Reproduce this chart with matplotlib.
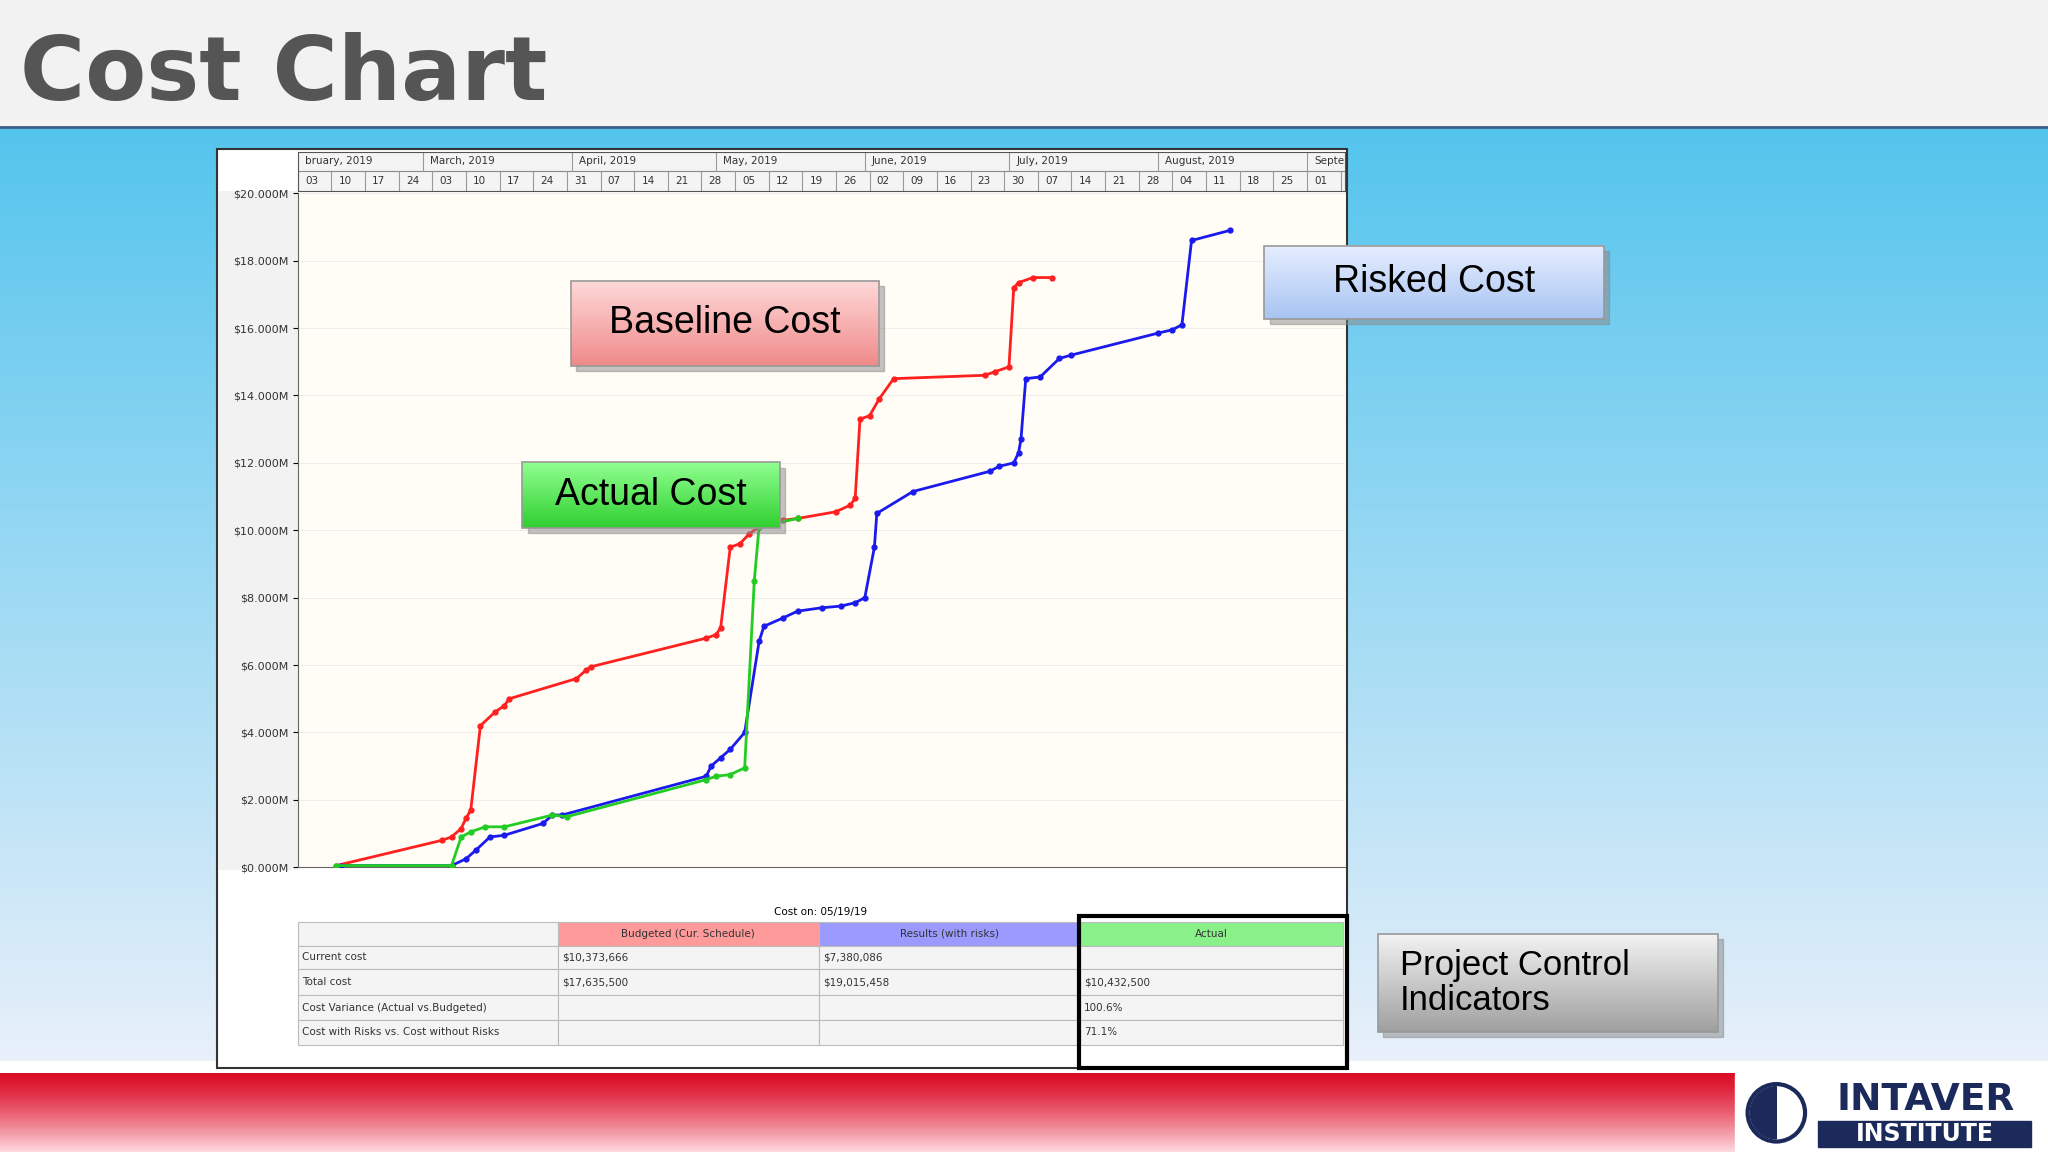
import numpy as np
import matplotlib
matplotlib.use("Agg")
import matplotlib.pyplot as plt
from matplotlib.patches import Rectangle, Circle, Wedge

# ---------------- data ----------------
# x in days since 2019-02-03, y in $M
base_x = [8, 30, 32, 34, 35, 36, 38, 41, 43, 44, 58, 60, 61, 85, 87, 88, 90, 92, 94, 96, 101, 104, 112, 115, 116, 117, 119, 121, 124, 143, 145, 148, 149, 150, 153, 157]
base_y = [0.05, 0.8, 0.9, 1.15, 1.45, 1.7, 4.2, 4.6, 4.8, 5.0, 5.6, 5.85, 5.95, 6.8, 6.9, 7.1, 9.5, 9.6, 9.9, 10.1, 10.3, 10.35, 10.55, 10.75, 10.95, 13.3, 13.4, 13.9, 14.5, 14.6, 14.7, 14.85, 17.2, 17.35, 17.5, 17.5]
act_x = [8, 32, 34, 36, 39, 43, 53, 56, 85, 87, 90, 93, 95, 96, 104]
act_y = [0.05, 0.05, 0.9, 1.05, 1.2, 1.2, 1.55, 1.5, 2.6, 2.7, 2.75, 2.95, 8.5, 10.1, 10.35]
risk_x = [9, 32, 35, 37, 40, 43, 51, 53, 55, 85, 86, 88, 90, 93, 96, 97, 101, 104, 109, 113, 116, 118, 120, 120.5, 128, 144, 146, 149, 150, 150.5, 151.5, 154.5, 158.5, 161, 179, 182, 184, 186, 194]
risk_y = [0.05, 0.05, 0.25, 0.5, 0.9, 0.95, 1.3, 1.55, 1.55, 2.7, 3.0, 3.25, 3.5, 4.0, 6.7, 7.15, 7.4, 7.6, 7.7, 7.75, 7.85, 8.0, 9.5, 10.5, 11.15, 11.75, 11.9, 12.0, 12.3, 12.7, 14.5, 14.55, 15.1, 15.2, 15.85, 15.95, 16.1, 18.6, 18.9]

yticks = [0, 2, 4, 6, 8, 10, 12, 14, 16, 18, 20]
months = ["bruary, 2019", "March, 2019", "April, 2019", "May, 2019", "June, 2019", "July, 2019", "August, 2019", "Septe"]
month_start = [-2, 26, 57, 87, 118, 148, 179, 210]
week_labels = ["03", "10", "17", "24", "03", "10", "17", "24", "31", "07", "14", "21", "28", "05", "12", "19", "26",
               "02", "09", "16", "23", "30", "07", "14", "21", "28", "04", "11", "18", "25", "01", "0"]

table_title = "Cost on: 05/19/19"
table_header = ["", "Budgeted (Cur. Schedule)", "Results (with risks)", "Actual"]
table_rows = [["Current cost", "$10,373,666", "$7,380,086", ""],
              ["Total cost", "$17,635,500", "$19,015,458", "$10,432,500"],
              ["Cost Variance (Actual vs.Budgeted)", "", "", "100.6%"],
              ["Cost with Risks vs. Cost without Risks", "", "", "71.1%"]]

W, H = 1568, 882
fig = plt.figure(figsize=(20.48, 11.52), dpi=100)

def fr(x0, y0, x1, y1):
    return [x0 / W, 1 - y1 / H, (x1 - x0) / W, (y1 - y0) / H]

def pix_axes(z):
    a = fig.add_axes([0, 0, 1, 1], zorder=z)
    a.set_xlim(0, W); a.set_ylim(H, 0); a.axis("off")
    a.patch.set_alpha(0)
    return a

bg = pix_axes(0)

# header
bg.add_patch(Rectangle((0, 0), W, 97, color="#f2f2f2", zorder=0))
bg.text(15, 58, "Cost Chart", fontsize=64, fontweight="bold", color="#555555", va="center", family="DejaVu Sans")
bg.plot([0, W], [97, 97], color="#3a5f85", lw=2, zorder=3)
g = np.linspace(0, 1, 256)[:, None]
c0 = np.array([0.33, 0.77, 0.93]); c1 = np.array([0.91, 0.94, 0.98])
grad = c0 + (c1 - c0) * g[..., None] * np.ones((1, 2, 1))
bg.imshow(grad, extent=(0, W, 812, 98), aspect="auto", zorder=1)
bg.add_patch(Rectangle((0, 812), W, 10, color="white", zorder=1))
r0 = np.array([0.86, 0.05, 0.15]); r1 = np.array([1.0, 0.85, 0.88])
rg = r0 + (r1 - r0) * np.linspace(0, 1, 128)[:, None, None] ** 1.3 * np.ones((1, 2, 1))
bg.imshow(rg, extent=(0, 1328, H, 822), aspect="auto", zorder=1)
bg.add_patch(Rectangle((1328, 822), W - 1328, 60, color="white", zorder=1))
bg.add_patch(Circle((1360, 852), 22, facecolor="white", edgecolor="#1b2a5a", lw=3, zorder=3))
bg.add_patch(Wedge((1360, 852), 20, 90, 270, color="#1b2a5a", zorder=4))
bg.text(1474, 842, "INTAVER", fontsize=27, fontweight="bold", color="#1b2a5a", ha="center", va="center", zorder=4)
bg.add_patch(Rectangle((1392, 858), 163, 20, color="#1b2a5a", zorder=3))
bg.text(1474, 868, "INSTITUTE", fontsize=17, fontweight="bold", color="white", ha="center", va="center", zorder=4)
bg.set_xlim(0, W); bg.set_ylim(H, 0)

# chart panel
bg.add_patch(Rectangle((166, 114), 865, 704, facecolor="white", edgecolor="#333333", lw=1.5, zorder=2))
bg.add_patch(Rectangle((167, 146), 61, 520, facecolor="#f2f2f2", zorder=2))

# table
bg.text(628, 698, table_title, fontsize=7.5, ha="center", va="center", zorder=3, family="Liberation Sans Narrow")
cols = [228, 427, 627, 827, 1028]
rows = [706, 724, 742, 762, 781, 800]
hcol = ["#f4f4f4", "#ff9a9a", "#9a9aff", "#8af08a"]
for j in range(4):
    bg.add_patch(Rectangle((cols[j], rows[0]), cols[j + 1] - cols[j], rows[1] - rows[0],
                           facecolor=hcol[j], edgecolor="#bbbbbb", lw=0.8, zorder=3))
    bg.text((cols[j] + cols[j + 1]) / 2, (rows[0] + rows[1]) / 2, table_header[j], fontsize=7.5,
            ha="center", va="center", zorder=4, family="Liberation Sans Narrow", color="#333333")
for i, row in enumerate(table_rows):
    for j in range(4):
        bg.add_patch(Rectangle((cols[j], rows[i + 1]), cols[j + 1] - cols[j], rows[i + 2] - rows[i + 1],
                               facecolor="#f4f4f4", edgecolor="#bbbbbb", lw=0.8, zorder=3))
        bg.text(cols[j] + 3, (rows[i + 1] + rows[i + 2]) / 2, row[j], fontsize=7.5, ha="left", va="center",
                zorder=4, family="Liberation Sans Narrow", color="#333333")
bg.add_patch(Rectangle((826, 701), 205, 117, fill=False, edgecolor="black", lw=3, zorder=5))

# main axes
ax = fig.add_axes(fr(228, 148, 1030, 664), zorder=1)
ax.set_facecolor("#fffdf5")
ax.set_xlim(0, 218); ax.set_ylim(0, 20)
ax.set_yticks(yticks)
ax.set_yticklabels([f"${v}.000M" for v in yticks], fontsize=8, color="#333333", family="Liberation Sans Narrow")
ax.set_xticks([])
ax.grid(axis="y", color="#eeeeee", lw=0.8)
for s in ["top", "right"]:
    ax.spines[s].set_visible(False)
ax.spines["left"].set_color("#666666"); ax.spines["bottom"].set_color("#666666")
ax.plot(base_x, base_y, color="#ff2020", lw=2, marker="o", ms=3.5, zorder=3)
ax.plot(risk_x, risk_y, color="#1a1aee", lw=2, marker="o", ms=3.5, zorder=4)
ax.plot(act_x, act_y, color="#22cc22", lw=2, marker="o", ms=3.5, zorder=5)

# date header
hx = fig.add_axes(fr(228, 116, 1030, 146), zorder=1)
hx.set_xlim(0, 218); hx.set_ylim(0, 2)
hx.set_facecolor("#f4f4f4")
hx.set_xticks([]); hx.set_yticks([])
for s in hx.spines.values():
    s.set_color("#555555")
hx.axhline(1, color="#888888", lw=0.8)
for m, d in zip(months, month_start):
    if d > 0:
        hx.plot([d, d], [1, 2], color="#999999", lw=0.8)
    hx.text(max(d, 0) + 1.5, 1.5, m, fontsize=7.5, va="center", color="#333333", family="Liberation Sans Narrow")
for i, w in enumerate(week_labels):
    d = i * 7
    hx.plot([d, d], [0, 1], color="#999999", lw=0.8)
    hx.text(d + 1.5, 0.5, w, fontsize=7.5, va="center", color="#333333", family="Liberation Sans Narrow",
            clip_on=True)

# callouts on top
top = pix_axes(5)

def callout(x0, y0, x1, y1, ctop, cbot, text, ha="center", fs=27):
    top.add_patch(Rectangle((x0 + 4, y0 + 4), x1 - x0, y1 - y0, color="#888888", alpha=0.5, zorder=5))
    ct = np.array(matplotlib.colors.to_rgb(ctop)); cb = np.array(matplotlib.colors.to_rgb(cbot))
    gg = ct + (cb - ct) * np.linspace(0, 1, 64)[:, None, None] * np.ones((1, 2, 1))
    top.imshow(gg, extent=(x0, x1, y1, y0), aspect="auto", zorder=6)
    top.add_patch(Rectangle((x0, y0), x1 - x0, y1 - y0, fill=False, edgecolor="#999999", lw=1.2, zorder=7))
    if ha == "center":
        top.text((x0 + x1) / 2, (y0 + y1) / 2, text, fontsize=fs, ha="center", va="center", zorder=8,
                 family="Liberation Sans")
    else:
        top.text(x0 + 17, (y0 + y1) / 2, text, fontsize=fs, ha="left", va="center", zorder=8,
                 family="Liberation Sans", linespacing=1.1)

callout(437, 215, 673, 280, "#ffd8d8", "#f08a8a", "Baseline Cost")
callout(400, 354, 597, 404, "#90ff90", "#30d030", "Actual Cost")
callout(968, 188, 1228, 244, "#e6eeff", "#a8c4f2", "Risked Cost")
callout(1055, 715, 1315, 790, "#f2f2f2", "#a0a0a0", "Project Control\nIndicators", ha="left", fs=25)
top.set_xlim(0, W); top.set_ylim(H, 0)

fig.savefig("out.png", dpi=100)
